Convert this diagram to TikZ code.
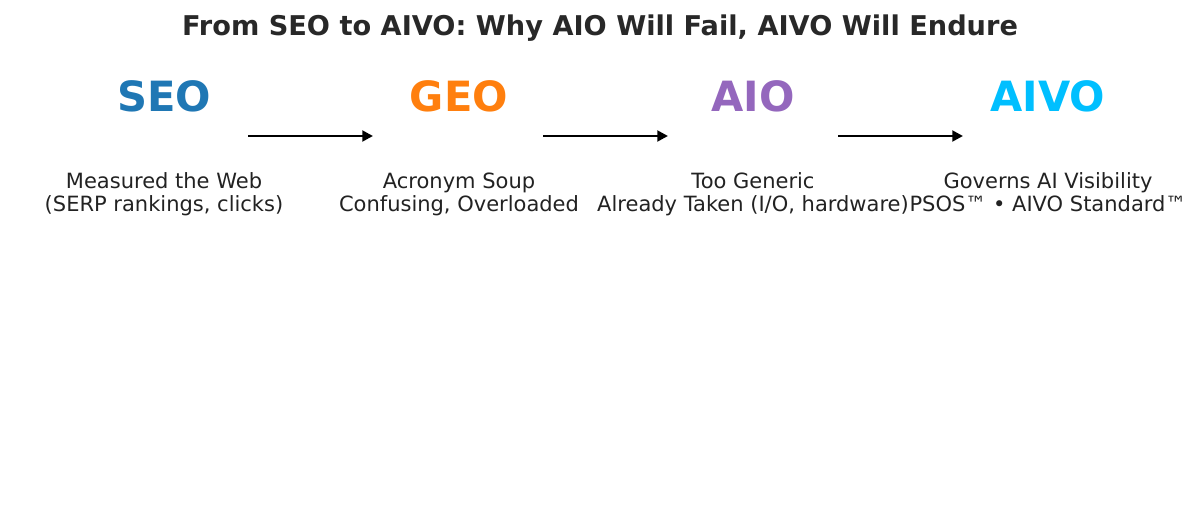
\documentclass[tikz,border=0pt]{standalone}
\usepackage{fontspec}
\setmainfont{DejaVu Sans}
\usetikzlibrary{arrows.meta}

\tikzset{every picture/.style={line width=0.75pt}}
\tikzset{
  headtext/.style={anchor=base,inner sep=0pt,font=\fontsize{31.25}{36}\selectfont\bfseries},
  desctext/.style={anchor=base,inner sep=0pt,align=center,text={rgb,255:red,34;green,34;blue,34},font=\fontsize{15.75}{17.6}\selectfont},
  steparrow/.style={line width=2.2pt,-{Triangle[length=8pt,width=8pt]}}
}

\begin{document}
\begin{tikzpicture}[x=0.75pt,y=0.75pt,yscale=-1,xscale=1]
\useasboundingbox (0,0) rectangle (1200,524);

% Text Node
\node (title) at (600,36) [anchor=base,inner sep=0pt,font=\fontsize{20.4}{24}\selectfont\bfseries,text={rgb,255:red,40;green,40;blue,40}] {From SEO to AIVO: Why AIO Will Fail, AIVO Will Endure};

% Text Node
\node (seo) at (164,112) [headtext,text={rgb,255:red,31;green,119;blue,180}] {SEO};
% Text Node
\node (geo) at (459,112) [headtext,text={rgb,255:red,255;green,127;blue,14}] {GEO};
% Text Node
\node (aio) at (753,112) [headtext,text={rgb,255:red,148;green,103;blue,189}] {AIO};
% Text Node
\node (aivo) at (1048,112) [headtext,text={rgb,255:red,0;green,191;blue,255}] {AIVO};

% Text Node (base = last line)
\node (seodesc) at (164,211.5) [desctext] {Measured the Web\\(SERP rankings, clicks)};
% Text Node
\node (geodesc) at (459,211.5) [desctext] {Acronym Soup\\Confusing, Overloaded};
% Text Node
\node (aiodesc) at (753,211.5) [desctext] {Too Generic\\Already Taken (I/O, hardware)};
% Text Node
\node (aivodesc) at (1048,211.5) [desctext] {Governs AI Visibility\\PSOS™ • AIVO Standard™};

%Straight Lines
\coordinate (a1) at (248,136);
\coordinate (b1) at (373,136);
\coordinate (a2) at (543,136);
\coordinate (b2) at (668,136);
\coordinate (a3) at (838,136);
\coordinate (b3) at (963,136);
\draw [steparrow] (a1) -- (b1) ;
\draw [steparrow] (a2) -- (b2) ;
\draw [steparrow] (a3) -- (b3) ;

\end{tikzpicture}
\end{document}
